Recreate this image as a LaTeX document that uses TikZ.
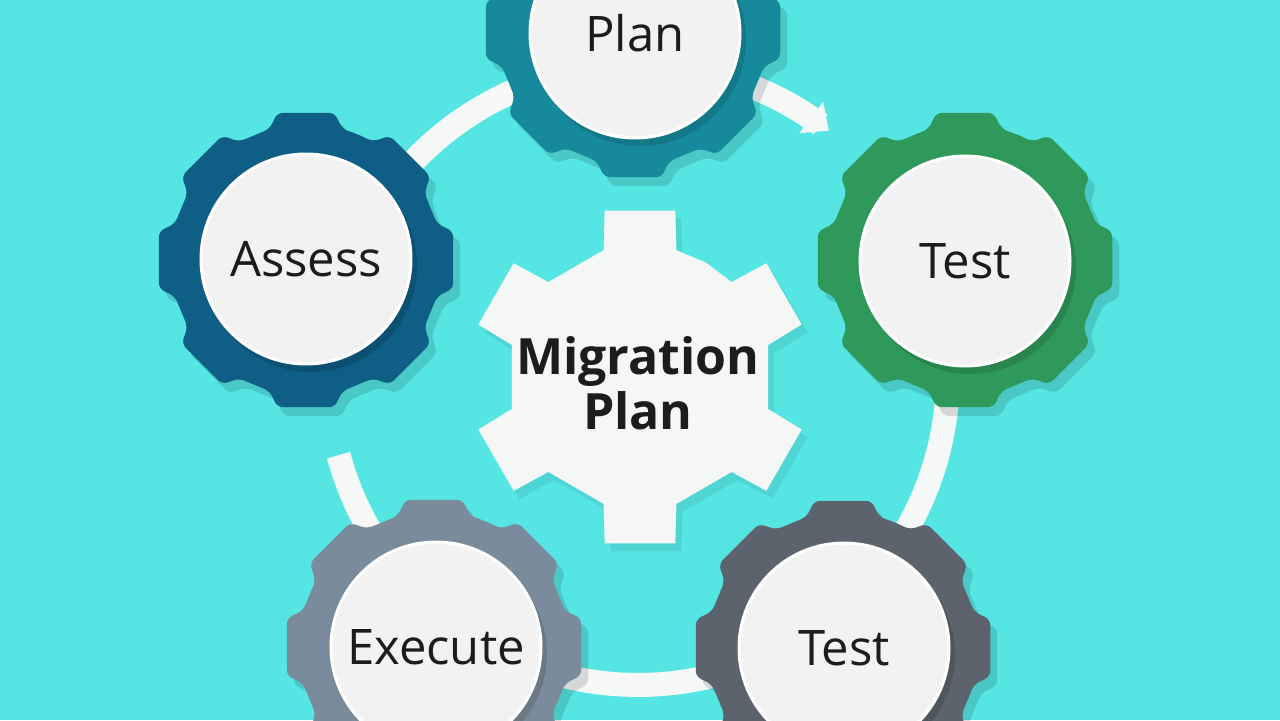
\documentclass[tikz,border=0pt]{standalone}
\usepackage{fontspec}
\setmainfont{Open Sans}
\usetikzlibrary{arrows.meta,calc}
\definecolor{bg}{HTML}{55E6E4}
\definecolor{planc}{HTML}{168A9C}
\definecolor{assessc}{HTML}{0E5E85}
\definecolor{greenc}{HTML}{2E995A}
\definecolor{grayc}{HTML}{5C636D}
\definecolor{execc}{HTML}{7A8C9B}
\definecolor{gearw}{HTML}{F5F6F6}
\definecolor{circf}{HTML}{F2F2F2}
\definecolor{ringc}{HTML}{F6F8F8}
\definecolor{txt}{HTML}{1C1C1C}
% #1 cx, #2 cy, #3 n, #4 last index, #5 outer, #6 root, #7 tip half angle, #8 base half angle
\newcommand\gearpath[8]{%
  ({#1+#6*cos(90-180/#3)},{#2+#6*sin(90-180/#3)})
  \foreach \k [evaluate=\k as \a using 90+\k*360/#3] in {0,...,#4} {%
    -- ({#1+#6*cos(\a-#8)},{#2+#6*sin(\a-#8)})
    -- ({#1+#5*cos(\a-#7)},{#2+#5*sin(\a-#7)})
    -- ({#1+#5*cos(\a+#7)},{#2+#5*sin(\a+#7)})
    -- ({#1+#6*cos(\a+#8)},{#2+#6*sin(\a+#8)})
  } -- cycle}
\newcommand\smallgear[3]{% cx, cy, colour
  \fill[black,opacity=.13,rounded corners=3pt] \gearpath{#1+7}{#2-9}{8}{7}{150}{136}{11}{15.5};
  \fill[#3,rounded corners=3pt] \gearpath{#1}{#2}{8}{7}{150}{136}{11}{15.5};
}
\tikzset{
  ringline/.style={draw=ringc,line width=12pt},
  disc/.style={circle,fill=circf,draw=white,line width=1.5pt,minimum size=105pt,inner sep=0pt,
    text=txt,font=\fontsize{24.5}{29}\selectfont},
  discshadow/.style={fill=black,opacity=.13},
}
\begin{document}
\begin{tikzpicture}[x=0.5pt,y=0.5pt]
\fill[bg] (0,0) rectangle (1280,720);
\useasboundingbox (0,0) rectangle (1280,720);
% ring
\draw[ringline] plot[domain=30:-165,samples=90] ({638+310*cos(\x)},{345+310*sin(\x)});
\draw[ringline,-{Triangle[length=11pt,width=19pt]}] plot[domain=168:52,samples=60] ({638+310*cos(\x)},{345+310*sin(\x)});
% centre gear
\fill[black,opacity=.07] \gearpath{646}{335}{6}{5}{170}{132}{12}{16};
\fill[gearw] \gearpath{640}{343}{6}{5}{170}{132}{12}{16};
\node[align=center,text=txt,font=\bfseries\fontsize{25}{27.5}\selectfont] (mp) at (638,337) {Migration\\Plan};
% outer gears
\smallgear{633}{690}{planc}
\smallgear{306}{460}{assessc}
\smallgear{965}{460}{greenc}
\smallgear{843}{72}{grayc}
\smallgear{434}{73}{execc}
% discs
\foreach \x/\y in {635/687,306/461,965/459,844/72,436/73}{\fill[discshadow] (\x+5,\y-7) circle (106);}
\node[disc] (plan) at (635,687) {Plan};
\node[disc] (assess) at (306,461) {Assess};
\node[disc] (test1) at (965,459) {Test};
\node[disc] (test2) at (844,72) {Test};
\node[disc] (execute) at (436,73) {Execute};
\end{tikzpicture}
\end{document}
